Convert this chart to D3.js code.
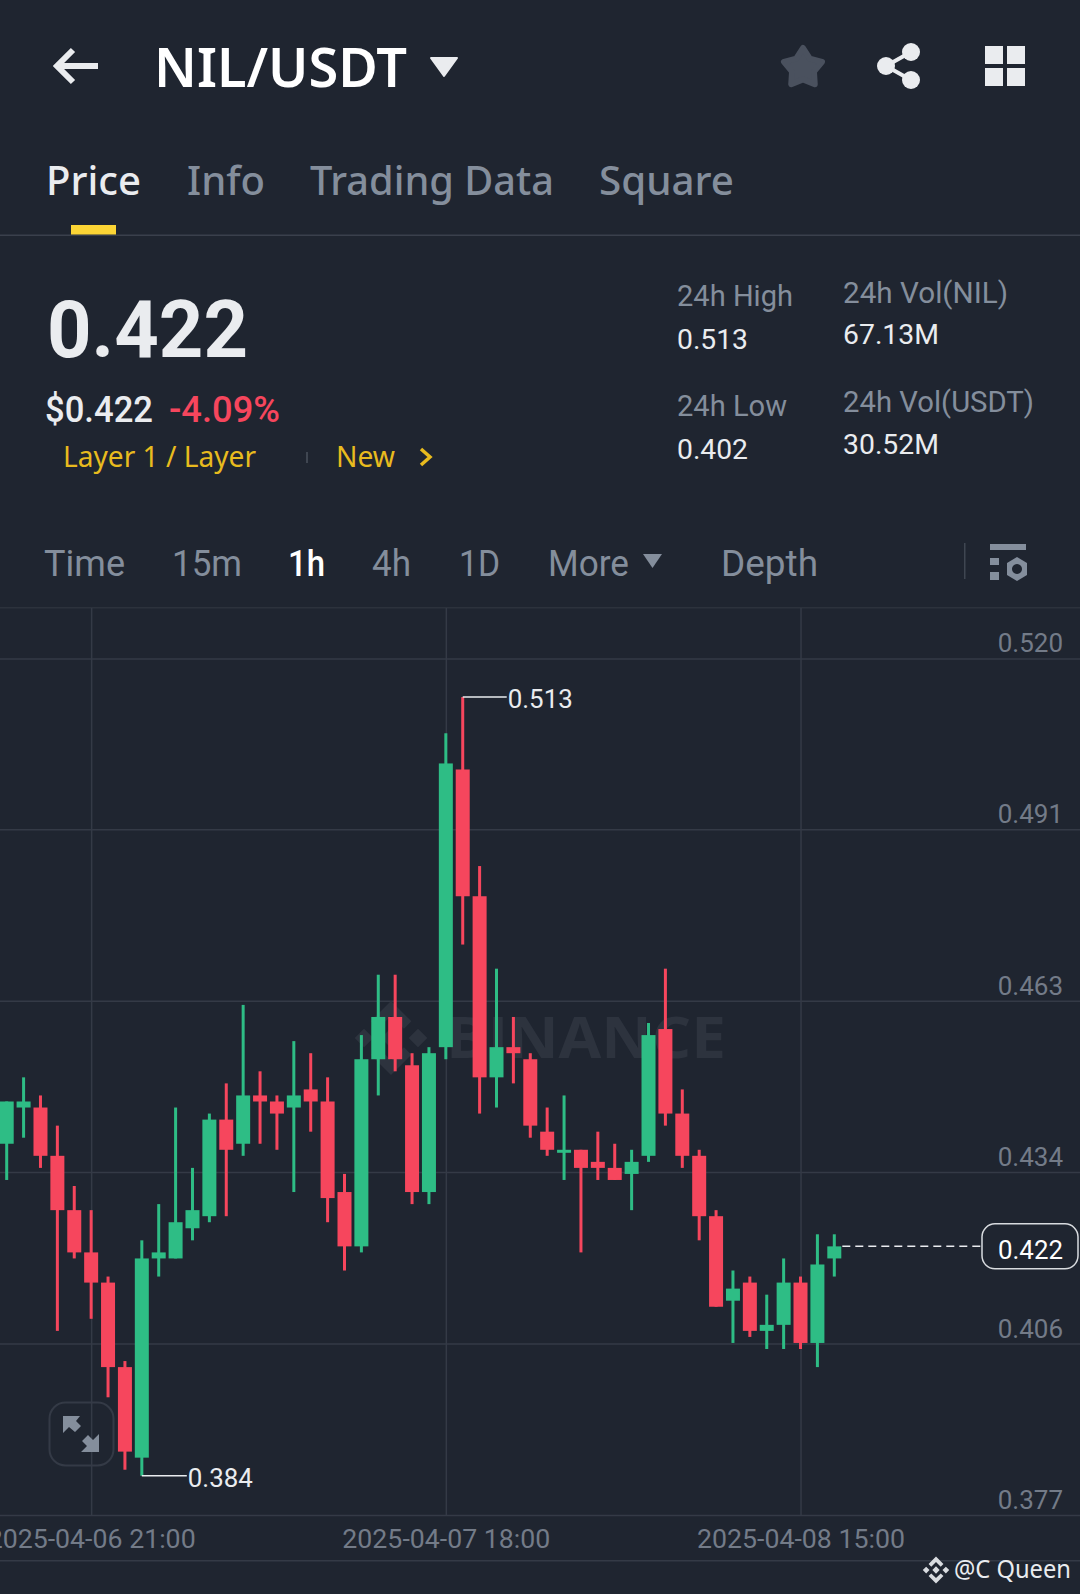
<!DOCTYPE html>
<html><head><meta charset="utf-8">
<script src="https://cdn.jsdelivr.net/npm/d3@7/dist/d3.min.js"></script>
<style>html,body{margin:0;padding:0;background:#1f2530;overflow:hidden}svg{display:block}</style>
</head><body><div id="chart"></div>
<script>
// ---- data ----
const opens  = [.439,.445,.445,.437,.428,.421,.416,.402,.387,.420,.420,.425,.427,.443,.439,.447,.446,.445,.448,.446,.431,.422,.453,.460,.452,.431,.455,.501,.480,.450,.455,.453,.441,.438,.438,.436,.435,.434,.437,.458,.444,.437,.427,.413,.416,.408,.409,.416,.406,.420];
const highs  = [.446,.450,.447,.442,.432,.428,.417,.403,.423,.429,.445,.435,.444,.449,.462,.451,.447,.456,.454,.450,.434,.457,.467,.467,.454,.455,.507,.513,.485,.468,.460,.454,.445,.447,.438,.441,.439,.438,.459,.468,.448,.438,.428,.418,.417,.414,.420,.417,.424,.424];
const lows   = [.433,.440,.435,.408,.420,.410,.397,.385,.384,.417,.420,.423,.426,.427,.437,.439,.438,.431,.441,.426,.418,.421,.447,.451,.429,.429,.453,.472,.444,.445,.449,.440,.437,.433,.421,.433,.433,.428,.436,.442,.435,.423,.412,.406,.407,.405,.405,.405,.402,.417];
const closes = [.446,.446,.437,.428,.421,.416,.402,.388,.420,.421,.426,.428,.443,.438,.447,.446,.444,.447,.446,.430,.422,.453,.460,.453,.431,.454,.502,.480,.450,.455,.454,.442,.438,.438,.435,.435,.433,.436,.457,.444,.437,.427,.412,.415,.408,.409,.416,.406,.419,.422];
const priceTicks  = [.3775,.4059,.4343,.4627,.4911,.5194];
const priceLabels = ["0.377","0.406","0.434","0.463","0.491","0.520"];
const timeTicks   = [5,26,47];
const timeLabels  = ["2025-04-06 21:00","2025-04-07 18:00","2025-04-08 15:00"];
const lastPrice = .422, highMark = {i:27,v:.513,label:"0.513"}, lowMark = {i:8,v:.384,label:"0.384"};
const tabs = ["Price","Info","Trading Data","Square"];
const intervals = ["Time","15m","1h","4h","1D","More","Depth"];

// ---- style ----
const BG="#1f2530",GRID="#343a46",GREEN="#2ebd85",RED="#f6465d",WHITE="#eaecef",GREY="#848e9c",AXIS="#737b88",YEL="#e8bb1e";
const SANS="'Noto Sans',sans-serif",DIN="Roboto,sans-serif";
const W=1080,H=1594;
const svg=d3.select("#chart").append("svg").attr("width",W).attr("height",H).attr("viewBox",`0 0 ${W} ${H}`);
svg.append("rect").attr("width",W).attr("height",H).attr("fill",BG);

function T(str,x,base,size,fill,o={}){
  const t=svg.append("text").attr("x",x).attr("y",base).attr("font-size",size).attr("fill",fill)
    .attr("font-family",o.font||SANS).attr("font-weight",o.w||400).text(str);
  if(o.len){t.attr("textLength",o.len).attr("lengthAdjust","spacingAndGlyphs");}
  if(o.anchor)t.attr("text-anchor",o.anchor);
  return t;
}
function logo(g,cx,cy,r,fill){
  const n=g.append("g").attr("transform",`translate(${cx},${cy}) scale(${r})`).attr("fill",fill);
  const d=(x,y,s)=>`M${x},${y-s}L${x+s},${y}L${x},${y+s}L${x-s},${y}Z`;
  n.append("path").attr("d",d(0,0,.27)+d(-.73,0,.25)+d(.73,0,.25)
    +"M0,-1L.55,-.45L.35,-.25L0,-.6L-.35,-.25L-.55,-.45Z"
    +"M0,1L.55,.45L.35,.25L0,.6L-.35,.25L-.55,.45Z");
}

// ---- header ----
svg.append("path").attr("d","M98,66H57M73,50L57,66L73,82").attr("fill","none").attr("stroke",WHITE).attr("stroke-width",6);
T("NIL/USDT",154,87,54,"#fff",{w:600,len:253});
svg.append("path").attr("d","M431,58H457L444,76Z").attr("fill",WHITE).attr("stroke",WHITE).attr("stroke-width",2).attr("stroke-linejoin","round");
const starPts=d3.range(10).map(k=>[k*Math.PI/5,k%2?11.5:20]);
svg.append("path").attr("d",d3.lineRadial().curve(d3.curveLinearClosed)(starPts)).attr("transform","translate(803,68)")
  .attr("fill","#4a515e").attr("stroke","#4a515e").attr("stroke-width",6).attr("stroke-linejoin","round");
svg.append("path").attr("d","M911,52L886,66L911,80").attr("fill","none").attr("stroke",WHITE).attr("stroke-width",4);
[[911,52],[886,66],[911,80]].forEach(c=>svg.append("circle").attr("cx",c[0]).attr("cy",c[1]).attr("r",9).attr("fill",WHITE));
[[985,46],[1007,46],[985,68],[1007,68]].forEach(c=>svg.append("rect").attr("x",c[0]).attr("y",c[1]).attr("width",18).attr("height",18).attr("fill",WHITE));

const tabPos=[[46,95],[187,78],[310,244],[599,135]];
tabs.forEach((s,i)=>T(s,tabPos[i][0],195,40,i?GREY:WHITE,{len:tabPos[i][1],w:500}));
svg.append("rect").attr("x",0).attr("y",234.5).attr("width",W).attr("height",1.5).attr("fill","#3a404c");
svg.append("rect").attr("x",71).attr("y",225).attr("width",45).attr("height",9.5).attr("fill","#fcd535");

// ---- price block ----
T("0.422",47,357,80,WHITE,{font:DIN,w:700,len:201});
T("$0.422",45,422,37,WHITE,{font:DIN,w:500,len:108});
T("-4.09%",169,422,37,RED,{font:DIN,w:500,len:111});
T("Layer 1 / Layer",63,467,29,YEL,{len:193});
svg.append("rect").attr("x",306).attr("y",452).attr("width",2).attr("height",11).attr("fill","#3f4651");
T("New",336,467,29,YEL,{len:59});
svg.append("path").attr("d","M421,449L430,457L421,465").attr("fill","none").attr("stroke",YEL).attr("stroke-width",3.5);

T("24h High",677,306,29,GREY,{font:DIN,len:116});
T("0.513",677,349,28,WHITE,{font:DIN,len:71});
T("24h Low",677,416,29,GREY,{font:DIN,len:110});
T("0.402",677,459,28,WHITE,{font:DIN,len:71});
T("24h Vol(NIL)",843,302.5,29,GREY,{font:DIN,len:165});
T("67.13M",843,344,28,WHITE,{font:DIN,len:96});
T("24h Vol(USDT)",843,412,29,GREY,{font:DIN,len:191});
T("30.52M",843,454,28,WHITE,{font:DIN,len:96});

// ---- interval bar ----
const intPos=[[44,81],[172,70],[288,37],[372,39],[459,41],[548,81],[721,97]];
intervals.forEach((s,i)=>T(s,intPos[i][0],576,36,i===2?"#fff":GREY,{font:DIN,len:intPos[i][1],w:i===2?500:400}));
svg.append("path").attr("d","M643,554H662L652.5,568Z").attr("fill",GREY);
svg.append("rect").attr("x",964).attr("y",543).attr("width",1.5).attr("height",36).attr("fill","#3f4651");
svg.append("rect").attr("x",990).attr("y",544).attr("width",36).attr("height",6).attr("fill",GREY);
svg.append("rect").attr("x",990).attr("y",558).attr("width",9).attr("height",7).attr("fill",GREY);
svg.append("rect").attr("x",990).attr("y",572).attr("width",9).attr("height",8).attr("fill",GREY);
svg.append("path").attr("fill",GREY).attr("fill-rule","evenodd")
  .attr("d","M1017,557L1027,563V575L1017,581L1007,575V563ZM1017,564a5,5 0 1,0 0.01,0Z");

// ---- scales and axes ----
const x=d3.scaleLinear().domain([0,49]).range([6.7,834.3]);
const y=d3.scaleLinear().domain([.3775,.5195]).range([1515,657.8]);
const plotTop=608,plotBottom=1515;

svg.append("rect").attr("x",0).attr("y",plotTop-1).attr("width",W).attr("height",1.5).attr("fill","#2c323c");

const yAx=svg.append("g").call(d3.axisRight(y).tickValues(priceTicks).tickFormat((d,i)=>priceLabels[i]).tickSize(W));
yAx.select(".domain").remove();
yAx.selectAll(".tick line").attr("stroke",GRID).attr("stroke-width",1.5);
yAx.selectAll(".tick text").attr("x",1063).attr("dy",-6.5).attr("text-anchor","end")
  .attr("font-size",26).attr("font-family",DIN).attr("fill",AXIS).attr("dominant-baseline","auto");

const xAx=svg.append("g").attr("transform",`translate(0,${plotBottom})`)
  .call(d3.axisBottom(x).tickValues(timeTicks).tickFormat((d,i)=>timeLabels[i]).tickSize(-(plotBottom-plotTop)));
xAx.select(".domain").remove();
xAx.selectAll(".tick line").attr("stroke",GRID).attr("stroke-width",1.5);
xAx.selectAll(".tick text").attr("y",32.5).attr("dy",0).attr("text-anchor","middle")
  .attr("font-size",26).attr("font-family",DIN).attr("fill",AXIS).attr("textLength",208).attr("lengthAdjust","spacingAndGlyphs");
svg.append("rect").attr("x",0).attr("y",1560).attr("width",W).attr("height",1.5).attr("fill",GRID);

// ---- watermark ----
logo(svg,391,1038,37,"#2d333e");
T("BINANCE",446,1058,58,"#2d333e",{w:700,len:280,font:"'Open Sans',sans-serif"});

// ---- candles ----
const data=opens.map((o,i)=>({i,o,h:highs[i],l:lows[i],c:closes[i]}));
const col=d=>d.c>=d.o?GREEN:RED;
const cg=svg.append("g");
cg.selectAll(".w").data(data).join("rect").attr("class","w")
  .attr("x",d=>x(d.i)-1.5).attr("width",3).attr("y",d=>y(d.h)).attr("height",d=>y(d.l)-y(d.h)).attr("fill",col);
cg.selectAll(".b").data(data).join("rect").attr("class","b")
  .attr("x",d=>x(d.i)-7).attr("width",14)
  .attr("y",d=>y(Math.max(d.o,d.c))).attr("height",d=>Math.max(3,Math.abs(y(d.o)-y(d.c)))).attr("fill",col);

// ---- high / low marks ----
const markLine=(m,len)=>svg.append("path").attr("fill","none").attr("stroke",WHITE).attr("stroke-width",1.5)
  .attr("d",d3.line()([[x(m.i),y(m.v)],[x(m.i)+len,y(m.v)]]));
markLine(highMark,44);markLine(lowMark,45);
T(highMark.label,x(highMark.i)+45,y(highMark.v)+11,26,WHITE,{font:DIN,len:65});
T(lowMark.label,x(lowMark.i)+46,y(lowMark.v)+11,26,WHITE,{font:DIN,len:65});

// ---- last price ----
svg.append("path").attr("d",d3.line()([[x(49)+8,y(lastPrice)],[982,y(lastPrice)]]))
  .attr("stroke",WHITE).attr("stroke-width",1.5).attr("stroke-dasharray","8,5").attr("fill","none");
svg.append("rect").attr("x",982).attr("y",y(lastPrice)-22.5).attr("width",96).attr("height",45).attr("rx",13)
  .attr("fill",BG).attr("stroke","#d8dbdf").attr("stroke-width",1.5);
T(d3.format(".3f")(lastPrice),998,y(lastPrice)+13,26,"#fff",{font:DIN,len:65});

// ---- expand button ----
svg.append("rect").attr("x",49.5).attr("y",1402.5).attr("width",64).attr("height",63).attr("rx",16)
  .attr("fill","none").attr("stroke",GRID).attr("stroke-width",2);
svg.append("path").attr("fill",GREY)
  .attr("d","M63,1416H80L76,1421L81,1426L75,1432L69,1427L63,1433ZM99,1452H81L87,1446L82,1441L88,1435L93,1440L99,1434Z");

// ---- footer credit ----
logo(svg,936,1570,13.5,"#d8dbdf");
T("@C Queen",954,1578,25,WHITE,{len:117});
</script></body></html>
